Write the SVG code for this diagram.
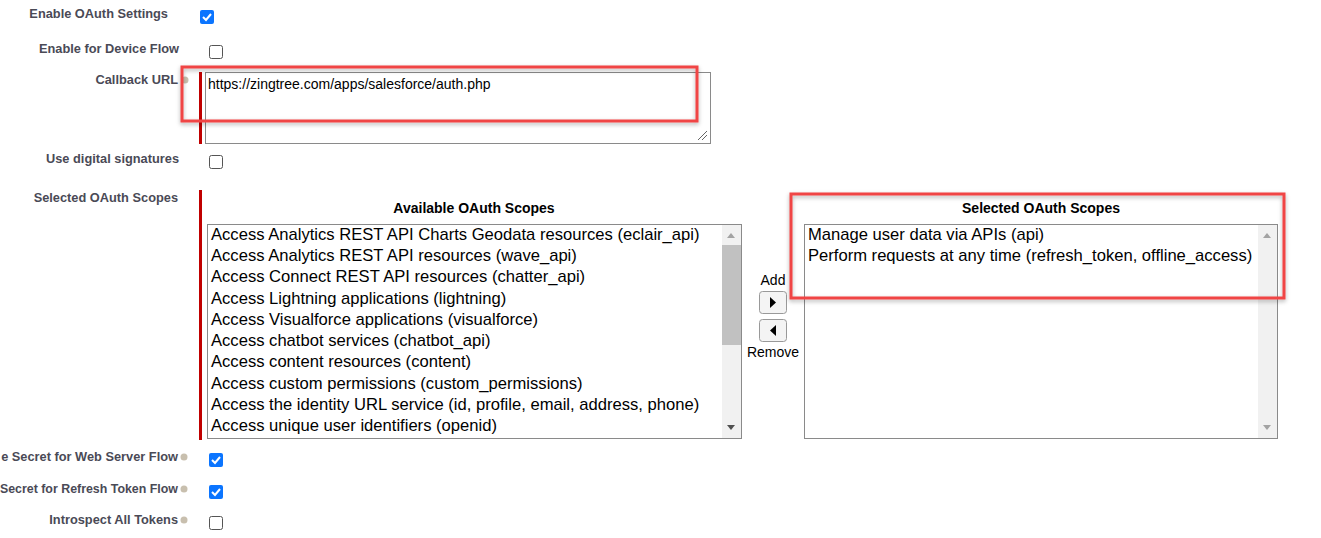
<svg xmlns="http://www.w3.org/2000/svg" width="1321" height="538" viewBox="0 0 1321 538">
<style>
.lbl{font:bold 12.8px "Liberation Sans",Arial,sans-serif;fill:#4a4a56;text-anchor:end}
.it{font:16.6px "Liberation Sans",Arial,sans-serif;fill:#000}
.hd{font:bold 14px "Liberation Sans",Arial,sans-serif;fill:#000;text-anchor:middle}
.sm{font:14px "Liberation Sans",Arial,sans-serif;fill:#000;text-anchor:middle}
.cb{fill:#fff;stroke:#555;stroke-width:1}
.ck{fill:#0b75ff}
.tick{fill:none;stroke:#fff;stroke-width:2}
.hl{fill:none;stroke:#f04545;stroke-width:3;filter:url(#sh)}
.help{fill:#c8bfae}
.box{fill:#fff;stroke:#8a8a8a}
.sb{fill:#f1f1f1}
.arr{fill:#a3a3a3}
.req{fill:#c00000}
</style>
<defs><filter id="sh" x="-5%" y="-20%" width="110%" height="140%"><feDropShadow dx="0" dy="2" stdDeviation="2" flood-opacity="0.3"/></filter></defs>
<rect width="1321" height="538" fill="#fff"/>
<g id="labels">
<text class="lbl" x="168" y="18">Enable OAuth Settings</text>
<text class="lbl" x="179" y="53">Enable for Device Flow</text>
<text class="lbl" x="178" y="84">Callback URL</text><circle class="help" cx="185" cy="80" r="3.5"/>
<text class="lbl" x="179" y="163">Use digital signatures</text>
<text class="lbl" x="178" y="202">Selected OAuth Scopes</text>
<text class="lbl" x="178" y="461">e Secret for Web Server Flow</text><circle class="help" cx="184" cy="457" r="3.5"/>
<text class="lbl" x="178" y="493" style="font-size:12.4px">Secret for Refresh Token Flow</text><circle class="help" cx="184" cy="489" r="3.5"/>
<text class="lbl" x="178" y="524">Introspect All Tokens</text><circle class="help" cx="184" cy="520" r="3.5"/>
</g>
<g id="checkboxes">
<rect class="ck" x="200" y="10" width="14" height="14" rx="2"/><path class="tick" d="M203 17l3 3 5-6"/>
<rect class="cb" x="209.5" y="45.5" width="13" height="13" rx="2"/>
<rect class="cb" x="209.5" y="155.5" width="13" height="13" rx="2"/>
<rect class="ck" x="209" y="453" width="14" height="14" rx="2"/><path class="tick" d="M212 460l3 3 5-6"/>
<rect class="ck" x="209" y="485" width="14" height="14" rx="2"/><path class="tick" d="M212 492l3 3 5-6"/>
<rect class="cb" x="209.5" y="516.5" width="13" height="13" rx="2"/>
</g>
<g id="callback">
<rect class="req" x="199" y="72" width="3" height="72"/>
<rect class="box" x="205.5" y="72.5" width="505" height="71"/>
<text class="it" x="208" y="89" style="font-size:14px">https://zingtree.com/apps/salesforce/auth.php</text>
<path d="M698 140l9-9M702 140l5-5" stroke="#666" fill="none"/>
</g>
<g id="available">
<rect class="req" x="199" y="190" width="3" height="250"/>
<text class="hd" x="474" y="213">Available OAuth Scopes</text>
<rect class="box" x="207.5" y="224.5" width="534" height="214"/>
<rect class="sb" x="722" y="225" width="19" height="213"/>
<rect fill="#c1c1c1" x="722" y="245" width="19" height="100"/>
<path class="arr" d="M727 238l4-5 4 5z"/><path fill="#505050" d="M727 425l4 5 4-5z"/>
<text class="it" x="211" y="240">Access Analytics REST API Charts Geodata resources (eclair_api)</text>
<text class="it" x="211" y="261">Access Analytics REST API resources (wave_api)</text>
<text class="it" x="211" y="282">Access Connect REST API resources (chatter_api)</text>
<text class="it" x="211" y="304">Access Lightning applications (lightning)</text>
<text class="it" x="211" y="325">Access Visualforce applications (visualforce)</text>
<text class="it" x="211" y="346">Access chatbot services (chatbot_api)</text>
<text class="it" x="211" y="367">Access content resources (content)</text>
<text class="it" x="211" y="389">Access custom permissions (custom_permissions)</text>
<text class="it" x="211" y="410">Access the identity URL service (id, profile, email, address, phone)</text>
<text class="it" x="211" y="431">Access unique user identifiers (openid)</text>
</g>
<g id="buttons">
<text class="sm" x="773" y="285">Add</text>
<rect x="759.5" y="291.5" width="27" height="22" rx="3" fill="#f4f4f4" stroke="#999"/><path d="M770 297v11l6-5.5z"/>
<rect x="759.5" y="319.5" width="27" height="22" rx="3" fill="#f4f4f4" stroke="#999"/><path d="M776 325v11l-6-5.5z"/>
<text class="sm" x="773" y="357">Remove</text>
</g>
<g id="selected">
<text class="hd" x="1041" y="213">Selected OAuth Scopes</text>
<rect class="box" x="804.5" y="224.5" width="473" height="214"/>
<rect class="sb" x="1258" y="225" width="19" height="213"/>
<path class="arr" d="M1263 238l4-5 4 5z"/><path class="arr" d="M1263 425l4 5 4-5z"/>
<text class="it" x="808" y="240">Manage user data via APIs (api)</text>
<text class="it" x="808" y="261">Perform requests at any time (refresh_token, offline_access)</text>
</g>
<g id="highlights">
<rect class="hl" x="182" y="67" width="515" height="54"/>
<rect class="hl" x="791" y="194" width="493" height="104"/>
</g>
</svg>
